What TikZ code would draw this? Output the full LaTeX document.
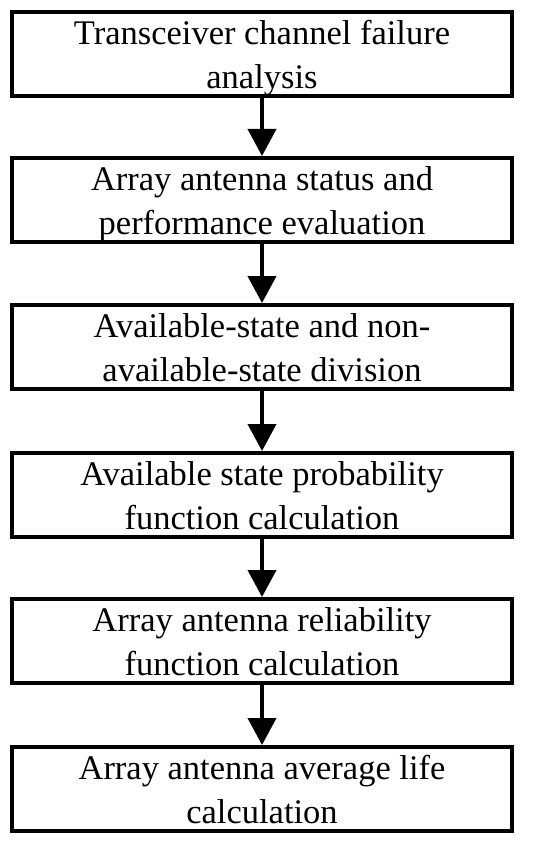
\documentclass[tikz,border=0pt]{standalone}
\usepackage{fontspec}
\setmainfont{Liberation Serif}
\usetikzlibrary{arrows.meta}
\begin{document}
\begin{tikzpicture}[x=1pt,y=-1pt]
        \tikzset{stepbox/.style={draw,line width=4pt,minimum width=500pt,minimum height=84pt,inner sep=0pt,align=center,font=\fontsize{34.5}{44}\selectfont,
            text height=74.6pt,text depth=6pt}};
        \tikzset{flow/.style={line width=4pt,-{Triangle[length=27pt,width=28pt]}}};
        \useasboundingbox (0,0) rectangle (550,842);
        \node[stepbox] (b1) at (262,54) {Transceiver channel failure\\analysis};
        \node[stepbox] (b2) at (262,200) {Array antenna status and\\performance evaluation};
        \node[stepbox] (b3) at (262,347) {Available-state and non-\\available-state division};
        \node[stepbox] (b4) at (262,495) {Available state probability\\function calculation};
        \node[stepbox] (b5) at (262,641) {Array antenna reliability\\function calculation};
        \node[stepbox] (b6) at (262,789) {Array antenna average life\\calculation};
        \draw[flow] (b1) -- (b2);
        \draw[flow] (b2) -- (b3);
        \draw[flow] (b3) -- (b4);
        \draw[flow] (b4) -- (b5);
        \draw[flow] (b5) -- (b6);
    \end{tikzpicture}
\end{document}
